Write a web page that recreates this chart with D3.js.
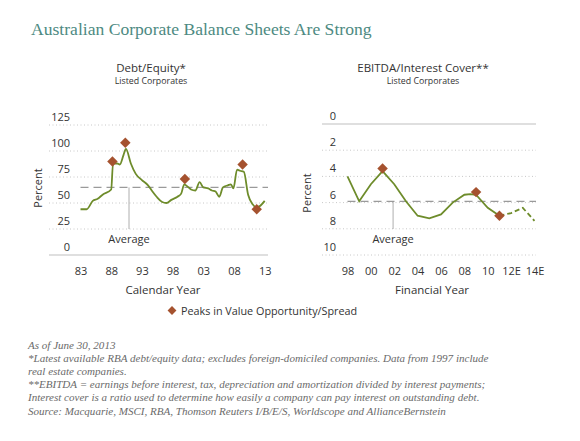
<!DOCTYPE html>
<html><head><meta charset="utf-8">
<script src="https://cdn.jsdelivr.net/npm/d3@7"></script>
<style>body{margin:0;background:#fff}</style>
</head><body>
<svg id="c" width="580" height="441"></svg>
<script>
// ---- data ----
const deYears  = [1983,1984,1985,1985.8,1986.6,1988,1988.3,1989,1989.4,1990,1990.4,1991.2,1992,1993,1994,1994.6,1995.4,1996.3,1997,1997.8,1998.8,1999.4,1999.9,2000.4,2001,2001.7,2002.4,2003,2003.8,2004.4,2005,2005.6,2006.2,2007,2007.5,2007.9,2008.5,2009,2009.6,2010.3,2011,2011.6,2012.2,2013];
const deValues = [44,44,52,54,58,63,88,88,87,96,102,88,78,72,67,62,56,51,50,53,56,59,68,66,63,62,70,65,64,62,61,56,65,67,68,64,82,81,80,58,49,46,47,52];
const dePeakYears  = [1988.2,1990.3,2000.0,2009.4,2011.7];
const dePeakValues = [90,108,73,87,44];
const deAverage = 65;
const deAvgLabelYear = 1990.9;
const deTicks = [1983,1988,1993,1998,2003,2008,2013];
const deTickLabels = ["83","88","93","98","03","08","13"];
const deGrid = [0,25,50,75,100,125];

const icYears  = [1998,1999,2000,2001,2002,2003,2004,2005,2006,2007,2008,2008.5,2009,2010,2011];
const icValues = [4.0,5.9,4.6,3.6,4.6,5.9,7.0,7.2,6.9,6.0,5.4,5.35,5.4,6.4,7.0];
const icEstYears  = [2011,2012,2013,2014];
const icEstValues = [7.0,6.8,6.4,7.4];
const icPeakYears  = [2001,2009,2011];
const icPeakValues = [3.4,5.2,7.0];
const icAverage = 5.9;
const icAvgLabelYear = 2001.9;
const icTicks = [1998,2000,2002,2004,2006,2008,2010,2012,2014];
const icTickLabels = ["98","00","02","04","06","08","10","12E","14E"];
const icGrid = [0,2,4,6,8,10];

const footnotes = [
  "As of June 30, 2013",
  "*Latest available RBA debt/equity data; excludes foreign-domiciled companies. Data from 1997 include",
  "real estate companies.",
  "**EBITDA = earnings before interest, tax, depreciation and amortization divided by interest payments;",
  "Interest cover is a ratio used to determine how easily a company can pay interest on outstanding debt.",
  "Source: Macquarie, MSCI, RBA, Thomson Reuters I/B/E/S, Worldscope and AllianceBernstein"
];

// ---- styles ----
const SANS = "'Open Sans', 'Noto Sans', sans-serif";
const SERIF = "'Liberation Serif', 'DejaVu Serif', serif";
const LINE = "#6e8c2b", PEAK = "#a5522f", TXT = "#333";

const svg = d3.select("#c");

svg.append("text").attr("x",31).attr("y",35)
  .attr("font-family",SERIF).attr("font-size",17.6).attr("fill","#4d8a82")
  .text("Australian Corporate Balance Sheets Are Strong");

function panel(o){
  const x = d3.scaleLinear().domain(o.xDomain).range(o.xRange);
  const y = d3.scaleLinear().domain(o.yDomain).range(o.yRange);
  const g = svg.append("g");
  g.append("text").attr("x",o.titleX).attr("y",72).attr("text-anchor","middle")
    .attr("font-family",SANS).attr("font-size",11.5).attr("fill",TXT).text(o.title);
  g.append("text").attr("x",o.titleX).attr("y",84).attr("text-anchor","middle")
    .attr("font-family",SANS).attr("font-size",8.8).attr("fill",TXT).text("Listed Corporates");
  o.grid.forEach(v=>{
    g.append("line").attr("x1",o.gridX[0]).attr("x2",o.gridX[1]).attr("y1",y(v)).attr("y2",y(v))
      .attr("stroke",v===0?"#d4d4d4":"#c8c8c8").attr("stroke-width",v===0?1.5:1)
      .attr("stroke-dasharray",v===0?null:"1,2.5");
    g.append("text").attr("x",o.labelRight).attr("y",y(v)-4).attr("text-anchor","end")
      .attr("font-family",SANS).attr("font-size",11).attr("fill",TXT).text(v);
  });
  g.append("text").attr("transform",`translate(${o.yLabelX},${o.yLabelY}) rotate(-90)`)
    .attr("text-anchor","middle").attr("font-family",SANS).attr("font-size",11).attr("fill",TXT).text("Percent");
  const ax = d3.axisBottom(x).tickValues(o.ticks).tickSize(0).tickPadding(0)
    .tickFormat((d,i)=>o.tickLabels[i]);
  const axg = g.append("g").attr("transform","translate(0,275)").call(ax);
  axg.select(".domain").remove();
  axg.selectAll("text").attr("font-family",SANS).attr("font-size",11).attr("fill",TXT).attr("dy",0);
  g.append("text").attr("x",o.xTitleX).attr("y",294).attr("text-anchor","middle")
    .attr("font-family",SANS).attr("font-size",11.5).attr("fill",TXT).text(o.xTitle);
  g.append("line").attr("x1",x(o.xDomain[0])).attr("x2",o.gridX[1]).attr("y1",y(o.avg)).attr("y2",y(o.avg))
    .attr("stroke","#9a9a9a").attr("stroke-width",1.3).attr("stroke-dasharray","8,5");
  g.append("line").attr("x1",x(o.avgLabelYear)).attr("x2",x(o.avgLabelYear))
    .attr("y1",y(o.avg)).attr("y2",229).attr("stroke","#999").attr("stroke-width",0.8);
  g.append("text").attr("x",x(o.avgLabelYear)).attr("y",243).attr("text-anchor","middle")
    .attr("font-family",SANS).attr("font-size",11).attr("fill",TXT).text("Average");
  const line = d3.line().x(d=>x(d[0])).y(d=>y(d[1])).curve(o.curve);
  g.append("path").datum(d3.zip(o.xs,o.ys)).attr("d",line)
    .attr("fill","none").attr("stroke",LINE).attr("stroke-width",1.8);
  if(o.estX){
    g.append("path").datum(d3.zip(o.estX,o.estY)).attr("d",line)
      .attr("fill","none").attr("stroke",LINE).attr("stroke-width",1.8).attr("stroke-dasharray","5,3");
  }
  g.selectAll(".pk").data(d3.zip(o.px,o.py)).join("path")
    .attr("d",d3.symbol(d3.symbolDiamond2,70)())
    .attr("transform",d=>`translate(${x(d[0])},${y(d[1])})`)
    .attr("fill",PEAK);
}

panel({title:"Debt/Equity*", titleX:151, xDomain:[1983,2013], xRange:[80.5,264.7],
  yDomain:[0,125], yRange:[255,125], grid:deGrid, gridX:[49,268], labelRight:70,
  yLabelX:42, yLabelY:188, ticks:deTicks, tickLabels:deTickLabels, xTitle:"Calendar Year", xTitleX:163,
  avg:deAverage, avgLabelYear:deAvgLabelYear, xs:deYears, ys:deValues, curve:d3.curveMonotoneX,
  px:dePeakYears, py:dePeakValues});

panel({title:"EBITDA/Interest Cover**", titleX:423, xDomain:[1998,2014], xRange:[347.5,534.5],
  yDomain:[0,10], yRange:[124,255], grid:icGrid, gridX:[322,536], labelRight:336,
  yLabelX:311, yLabelY:193, ticks:icTicks, tickLabels:icTickLabels, xTitle:"Financial Year", xTitleX:432,
  avg:icAverage, avgLabelYear:icAvgLabelYear, xs:icYears, ys:icValues, curve:d3.curveLinear,
  estX:icEstYears, estY:icEstValues, px:icPeakYears, py:icPeakValues});

svg.append("path").attr("d",d3.symbol(d3.symbolDiamond2,50)()).attr("transform","translate(172,310.5)").attr("fill",PEAK);
svg.append("text").attr("x",181).attr("y",314.5).attr("font-family",SANS).attr("font-size",10.8).attr("fill",TXT)
  .text("Peaks in Value Opportunity/Spread");

svg.selectAll(".fn").data(footnotes).join("text")
  .attr("x",28).attr("y",(d,i)=>349+i*13.1)
  .attr("font-family",SERIF).attr("font-style","italic").attr("font-size",11.05).attr("fill","#6a6a6a")
  .text(d=>d);
</script>
</body></html>
